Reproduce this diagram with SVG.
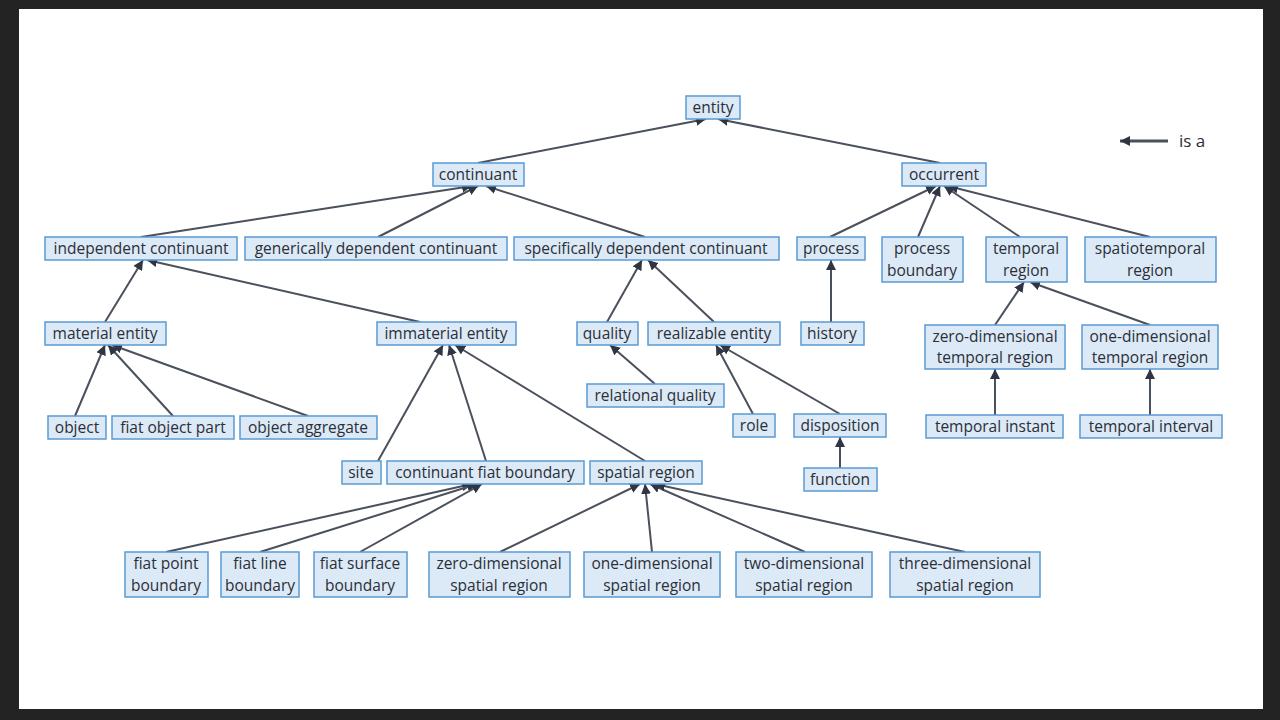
<svg xmlns="http://www.w3.org/2000/svg" width="1280" height="720" viewBox="0 0 1280 720">
<defs>
<marker id="ah" viewBox="0 0 10 10" refX="10" refY="5" markerWidth="10" markerHeight="10" markerUnits="userSpaceOnUse" orient="auto"><path d="M0,0 L10,5 L0,10 z" fill="#2f3542"/></marker>
<style>
.n rect{fill:#dce9f6;stroke:#5a9bd3;stroke-width:1.5}
.n text{font-family:"Open Sans","Noto Sans",sans-serif;font-size:15.5px;fill:#2b2f38;text-anchor:middle}
#edges line{stroke:#4a505c;stroke-width:2;marker-end:url(#ah)}
</style>
</defs>
<rect width="1280" height="720" fill="#232323"/>
<rect x="19" y="9" width="1244" height="700" fill="#ffffff"/>
<g id="edges">
<line x1="478" y1="163" x2="706" y2="119"/>
<line x1="940" y1="163" x2="718" y2="119"/>
<line x1="141" y1="237" x2="472" y2="186"/>
<line x1="378" y1="237" x2="478" y2="186"/>
<line x1="645" y1="237" x2="486" y2="186"/>
<line x1="830" y1="237" x2="936" y2="186"/>
<line x1="918" y1="237" x2="940" y2="186"/>
<line x1="1020" y1="237" x2="944" y2="186"/>
<line x1="1150" y1="237" x2="948" y2="186"/>
<line x1="105" y1="322" x2="143" y2="260"/>
<line x1="420" y1="322" x2="147" y2="260"/>
<line x1="607" y1="322" x2="642" y2="260"/>
<line x1="714" y1="322" x2="648" y2="260"/>
<line x1="831" y1="322" x2="831" y2="260"/>
<line x1="995" y1="325" x2="1024" y2="282"/>
<line x1="1150" y1="325" x2="1030" y2="282"/>
<line x1="655" y1="384" x2="610" y2="345"/>
<line x1="75" y1="416" x2="105" y2="345"/>
<line x1="173" y1="416" x2="108" y2="345"/>
<line x1="308" y1="416" x2="112" y2="345"/>
<line x1="753" y1="414" x2="716" y2="345"/>
<line x1="840" y1="414" x2="720" y2="345"/>
<line x1="840" y1="468" x2="840" y2="437"/>
<line x1="995" y1="415" x2="995" y2="369"/>
<line x1="1150" y1="415" x2="1150" y2="369"/>
<line x1="378" y1="461" x2="443" y2="345"/>
<line x1="486" y1="461" x2="449" y2="345"/>
<line x1="645" y1="461" x2="455" y2="345"/>
<line x1="166" y1="552" x2="472" y2="484"/>
<line x1="260" y1="552" x2="477" y2="484"/>
<line x1="360" y1="552" x2="482" y2="484"/>
<line x1="500" y1="552" x2="640" y2="484"/>
<line x1="652" y1="552" x2="645" y2="484"/>
<line x1="805" y1="552" x2="650" y2="484"/>
<line x1="965" y1="552" x2="655" y2="484"/>
<line x1="1168" y1="141" x2="1120" y2="141" style="stroke-width:3"/>
</g>
<text x="1179" y="147" font-family="Open Sans,sans-serif" font-size="17" fill="#2b2f38">is a</text>
<g id="entity" class="n"><rect x="686" y="96" width="54" height="23"/><text x="713" y="113">entity</text></g>
<g id="continuant" class="n"><rect x="433" y="163" width="91" height="23"/><text x="478" y="180">continuant</text></g>
<g id="occurrent" class="n"><rect x="902" y="163" width="84" height="23"/><text x="944" y="180">occurrent</text></g>
<g id="independent" class="n"><rect x="45" y="237" width="192" height="23"/><text x="141" y="254">independent continuant</text></g>
<g id="generically" class="n"><rect x="245" y="237" width="262" height="23"/><text x="376" y="254">generically dependent continuant</text></g>
<g id="specifically" class="n"><rect x="514" y="237" width="265" height="23"/><text x="646" y="254">specifically dependent continuant</text></g>
<g id="process" class="n"><rect x="797" y="237" width="68" height="23"/><text x="831" y="254">process</text></g>
<g id="process-boundary" class="n"><rect x="882" y="237" width="81" height="45"/><text x="922" y="254">process</text><text x="922" y="276">boundary</text></g>
<g id="temporal-region" class="n"><rect x="986" y="237" width="81" height="45"/><text x="1026" y="254">temporal</text><text x="1026" y="276">region</text></g>
<g id="spatiotemporal" class="n"><rect x="1085" y="237" width="131" height="45"/><text x="1150" y="254">spatiotemporal</text><text x="1150" y="276">region</text></g>
<g id="material" class="n"><rect x="45" y="322" width="121" height="23"/><text x="105" y="339">material entity</text></g>
<g id="immaterial" class="n"><rect x="377" y="322" width="139" height="23"/><text x="446" y="339">immaterial entity</text></g>
<g id="quality" class="n"><rect x="577" y="322" width="61" height="23"/><text x="607" y="339">quality</text></g>
<g id="realizable" class="n"><rect x="648" y="322" width="132" height="23"/><text x="714" y="339">realizable entity</text></g>
<g id="history" class="n"><rect x="801" y="322" width="63" height="23"/><text x="832" y="339">history</text></g>
<g id="zero-temporal" class="n"><rect x="925" y="325" width="140" height="44"/><text x="995" y="342">zero-dimensional</text><text x="995" y="363">temporal region</text></g>
<g id="one-temporal" class="n"><rect x="1082" y="325" width="136" height="44"/><text x="1150" y="342">one-dimensional</text><text x="1150" y="363">temporal region</text></g>
<g id="relational-quality" class="n"><rect x="587" y="384" width="137" height="23"/><text x="655" y="401">relational quality</text></g>
<g id="object" class="n"><rect x="48" y="416" width="58" height="23"/><text x="77" y="433">object</text></g>
<g id="fiat-object-part" class="n"><rect x="112" y="416" width="122" height="23"/><text x="173" y="433">fiat object part</text></g>
<g id="object-aggregate" class="n"><rect x="240" y="416" width="137" height="23"/><text x="308" y="433">object aggregate</text></g>
<g id="role" class="n"><rect x="733" y="414" width="42" height="23"/><text x="754" y="431">role</text></g>
<g id="disposition" class="n"><rect x="794" y="414" width="92" height="23"/><text x="840" y="431">disposition</text></g>
<g id="temporal-instant" class="n"><rect x="926" y="415" width="137" height="23"/><text x="995" y="432">temporal instant</text></g>
<g id="temporal-interval" class="n"><rect x="1080" y="415" width="142" height="23"/><text x="1151" y="432">temporal interval</text></g>
<g id="site" class="n"><rect x="342" y="461" width="39" height="23"/><text x="361" y="478">site</text></g>
<g id="cfb" class="n"><rect x="387" y="461" width="197" height="23"/><text x="485" y="478">continuant fiat boundary</text></g>
<g id="spatial-region" class="n"><rect x="590" y="461" width="112" height="23"/><text x="646" y="478">spatial region</text></g>
<g id="function" class="n"><rect x="804" y="468" width="73" height="23"/><text x="840" y="485">function</text></g>
<g id="fiat-point" class="n"><rect x="125" y="552" width="83" height="45"/><text x="166" y="569">fiat point</text><text x="166" y="591">boundary</text></g>
<g id="fiat-line" class="n"><rect x="221" y="552" width="78" height="45"/><text x="260" y="569">fiat line</text><text x="260" y="591">boundary</text></g>
<g id="fiat-surface" class="n"><rect x="314" y="552" width="93" height="45"/><text x="360" y="569">fiat surface</text><text x="360" y="591">boundary</text></g>
<g id="zero-spatial" class="n"><rect x="429" y="552" width="141" height="45"/><text x="499" y="569">zero-dimensional</text><text x="499" y="591">spatial region</text></g>
<g id="one-spatial" class="n"><rect x="584" y="552" width="136" height="45"/><text x="652" y="569">one-dimensional</text><text x="652" y="591">spatial region</text></g>
<g id="two-spatial" class="n"><rect x="736" y="552" width="136" height="45"/><text x="804" y="569">two-dimensional</text><text x="804" y="591">spatial region</text></g>
<g id="three-spatial" class="n"><rect x="890" y="552" width="150" height="45"/><text x="965" y="569">three-dimensional</text><text x="965" y="591">spatial region</text></g>
</svg>
